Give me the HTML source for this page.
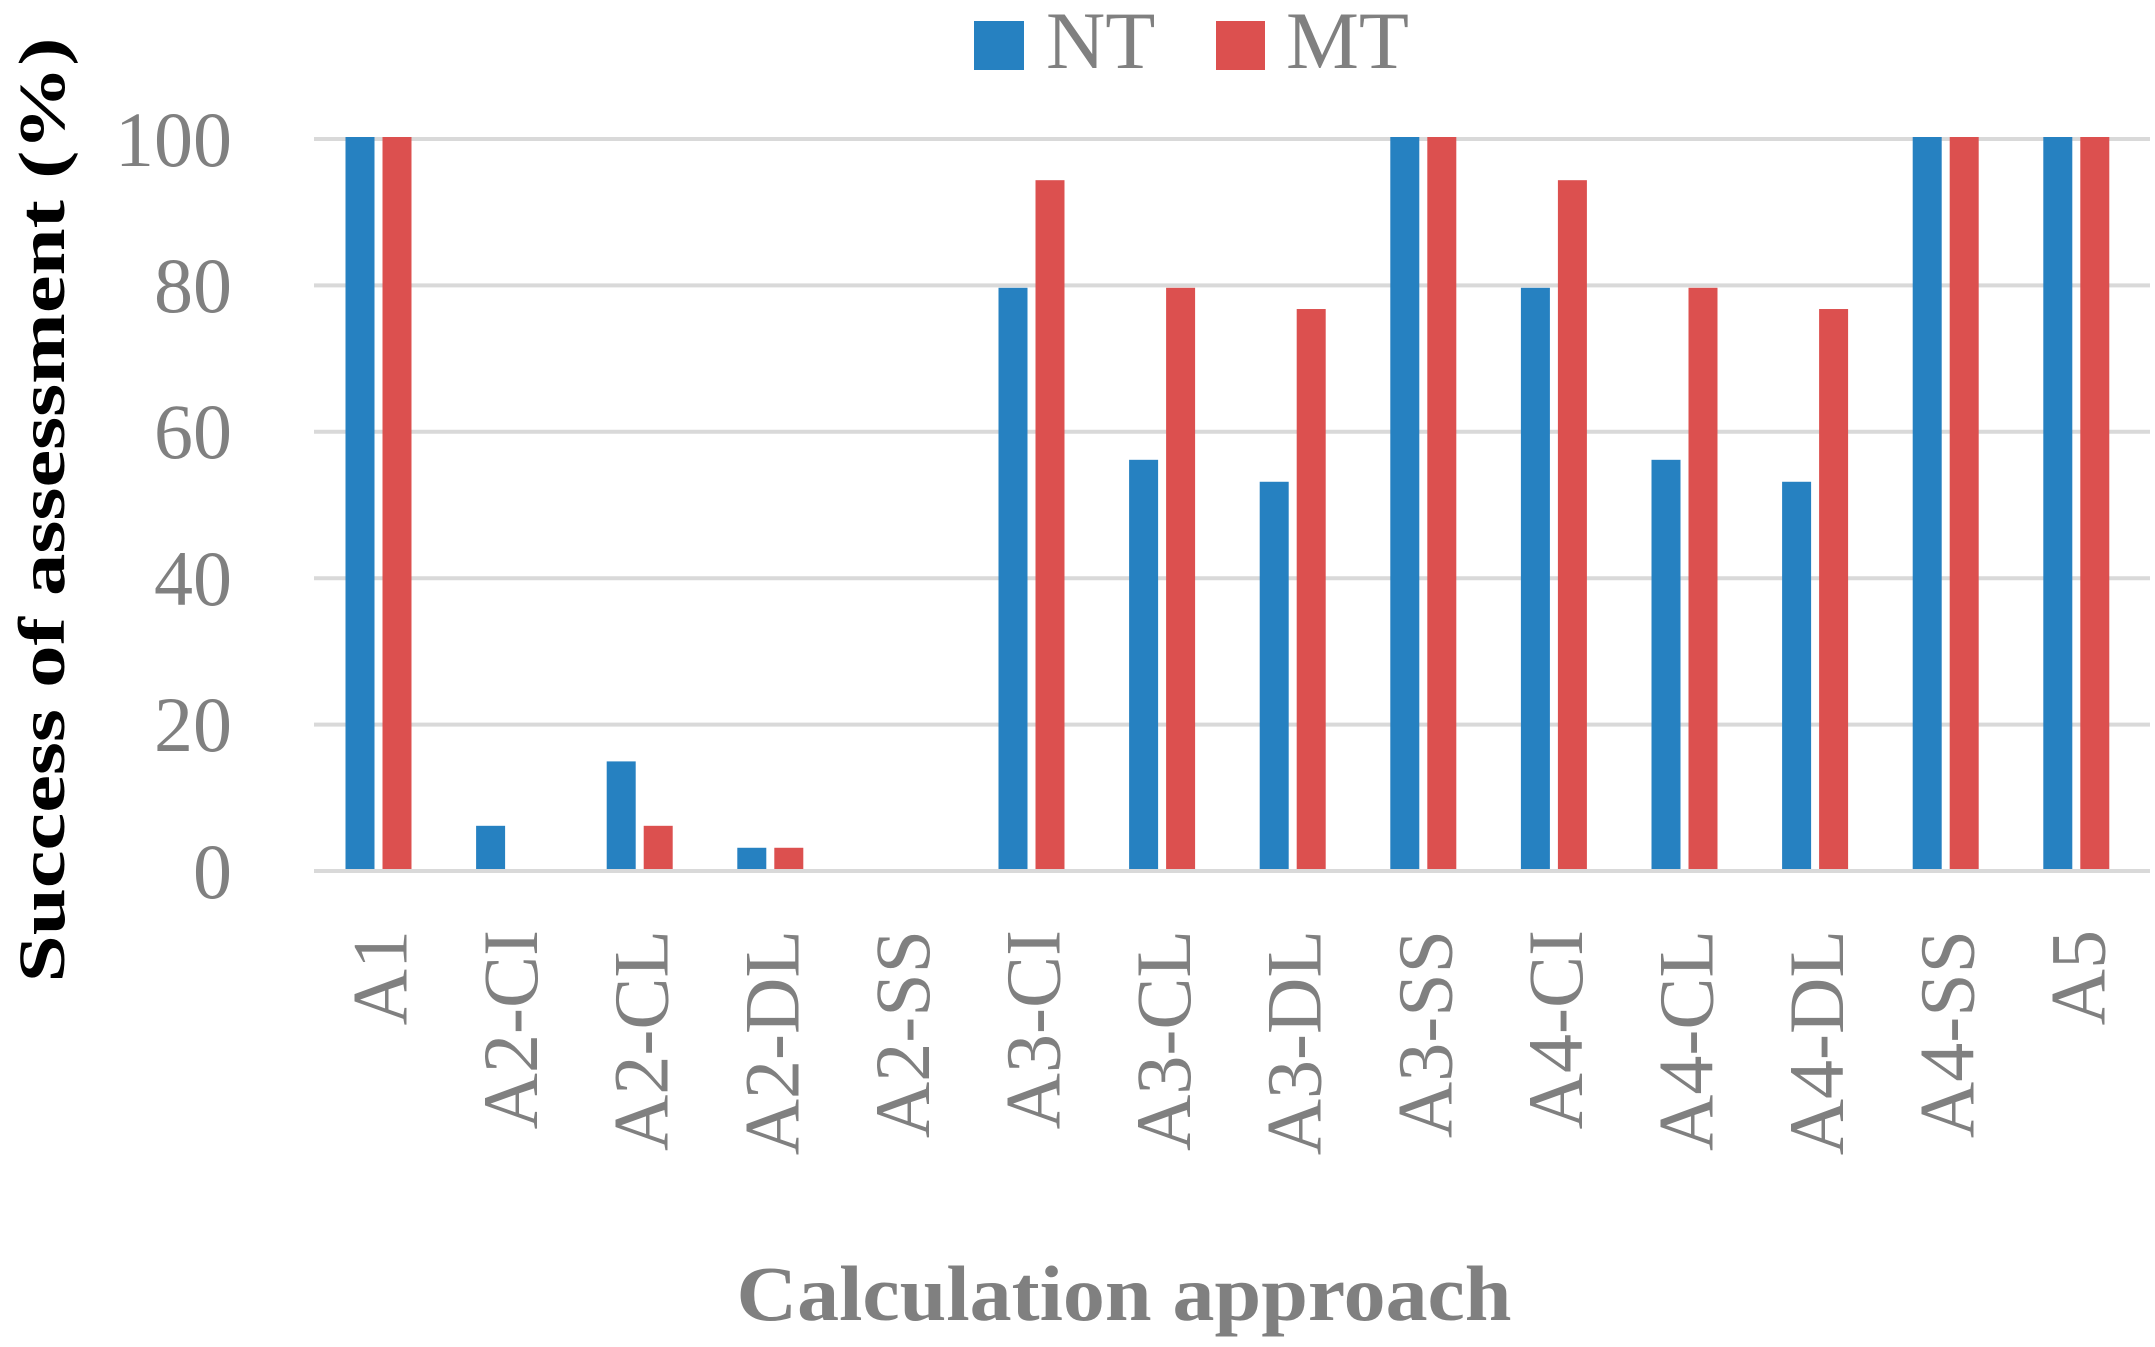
<!DOCTYPE html>
<html><head><meta charset="utf-8"><style>html,body{margin:0;padding:0;background:#fff}svg{display:block}</style></head><body>
<svg width="2155" height="1347" viewBox="0 0 2155 1347" xmlns="http://www.w3.org/2000/svg" font-family="'Liberation Serif', serif">
<g stroke="#d9d9d9" stroke-width="4">
<line x1="314" y1="139" x2="2150" y2="139"/>
<line x1="314" y1="285.4" x2="2150" y2="285.4"/>
<line x1="314" y1="431.8" x2="2150" y2="431.8"/>
<line x1="314" y1="578.2" x2="2150" y2="578.2"/>
<line x1="314" y1="724.6" x2="2150" y2="724.6"/>
<line x1="314" y1="871" x2="2150" y2="871"/>
</g>
<g fill="#808080" font-size="78" text-anchor="end">
<text x="232" y="166">100</text>
<text x="232" y="312">80</text>
<text x="232" y="458">60</text>
<text x="232" y="605">40</text>
<text x="232" y="751">20</text>
<text x="232" y="898">0</text>
</g>
<g id="bars"></g>
<g fill="#808080" font-size="78" text-anchor="end" id="xl"></g>
<text transform="translate(64,510) rotate(-90)" text-anchor="middle" font-size="66" font-weight="bold" fill="#000" textLength="945" lengthAdjust="spacingAndGlyphs">Success of assessment (%)</text>
<text x="1124" y="1320" text-anchor="middle" font-size="78" font-weight="bold" fill="#808080" textLength="775" lengthAdjust="spacingAndGlyphs">Calculation approach</text>
<rect x="974" y="21" width="50" height="49" fill="#2681c1"/>
<text x="1046" y="68" font-size="82" fill="#808080">NT</text>
<rect x="1216" y="21" width="49" height="49" fill="#dc504f"/>
<text x="1286" y="68" font-size="82" fill="#808080">MT</text>
<script>
var nt=[100,5.9,14.7,2.9,0,79.4,55.9,52.9,100,79.4,55.9,52.9,100,100];
var mt=[100,0,5.9,2.9,0,94.1,79.4,76.5,100,94.1,79.4,76.5,100,100];
var lab=["A1","A2-CI","A2-CL","A2-DL","A2-SS","A3-CI","A3-CL","A3-DL","A3-SS","A4-CI","A4-CL","A4-DL","A4-SS","A5"];
var ns="http://www.w3.org/2000/svg",b=document.getElementById("bars"),xl=document.getElementById("xl");
for(var i=0;i<14;i++){var c=379.5+i*130.6;
[[nt[i],c-34,"#2681c1"],[mt[i],c+3,"#dc504f"]].forEach(function(d){if(d[0]<=0)return;var h=d[0]*7.32;var r=document.createElementNS(ns,"rect");r.setAttribute("x",d[1]);r.setAttribute("width",29);r.setAttribute("y",869-h);r.setAttribute("height",h);r.setAttribute("fill",d[2]);b.appendChild(r);});
var t=document.createElementNS(ns,"text");t.setAttribute("transform","translate("+(c+27)+",930) rotate(-90)");t.textContent=lab[i];xl.appendChild(t);}
</script>
</svg>
</body></html>
